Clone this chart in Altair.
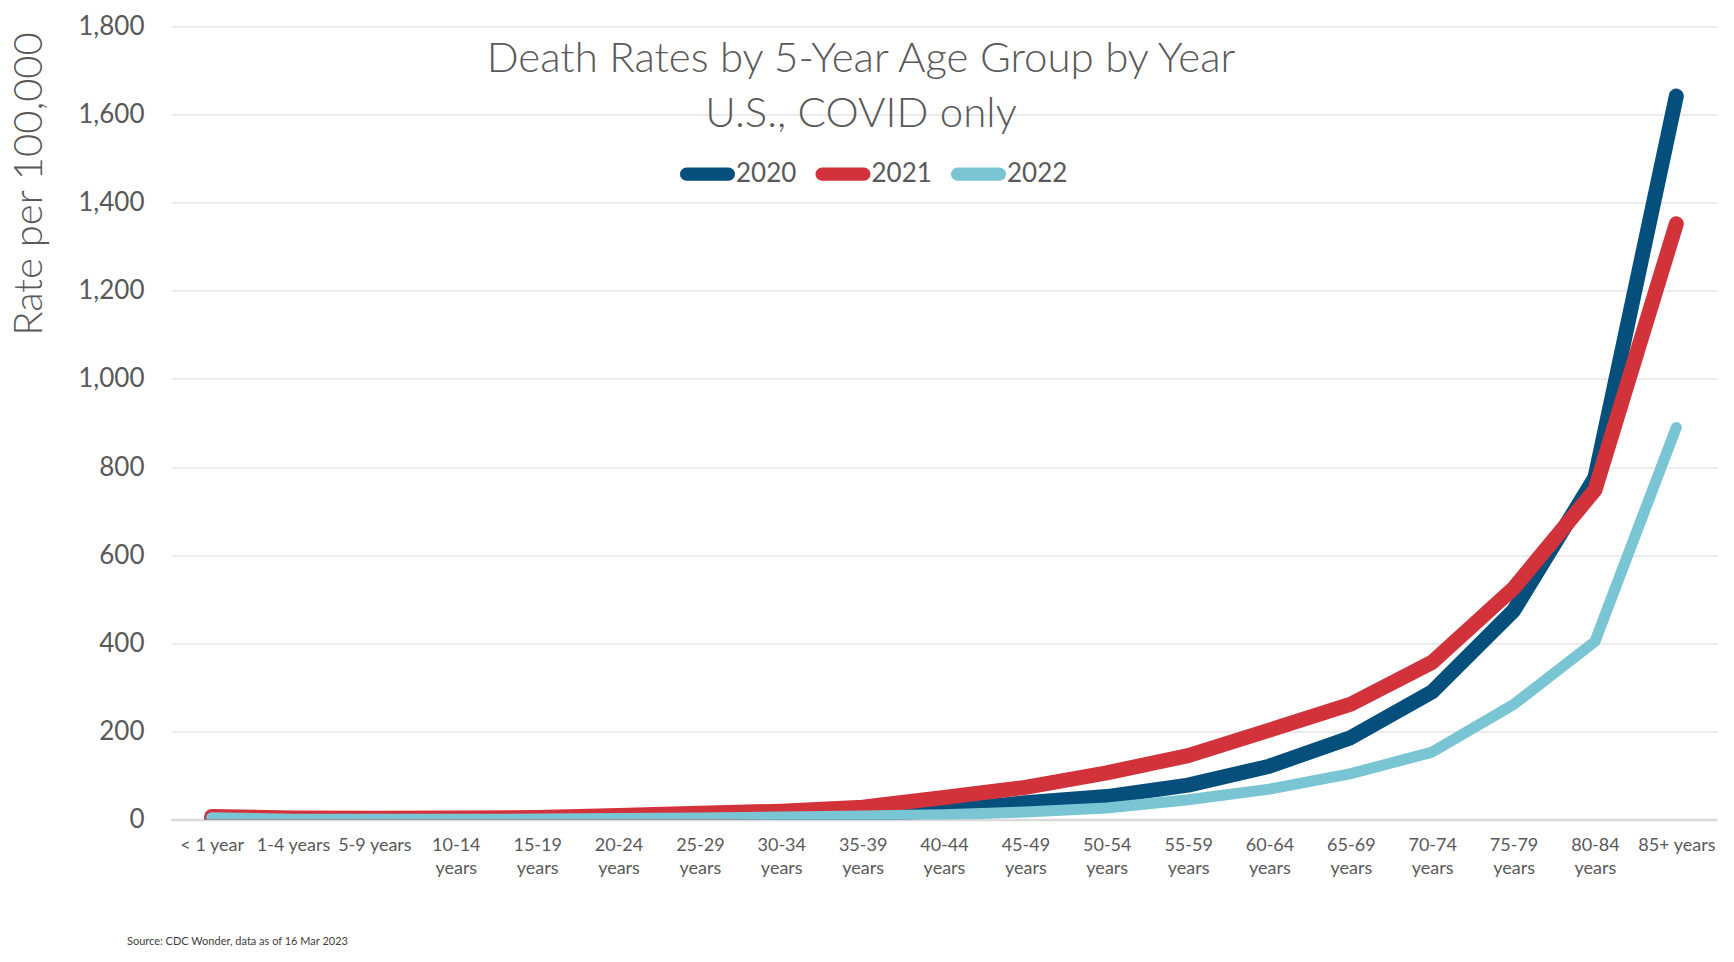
import altair as alt
import pandas as pd

# Age groups along the x axis
ages = [
    "< 1 year", "1-4 years", "5-9 years", "10-14 years", "15-19 years",
    "20-24 years", "25-29 years", "30-34 years", "35-39 years", "40-44 years",
    "45-49 years", "50-54 years", "55-59 years", "60-64 years", "65-69 years",
    "70-74 years", "75-79 years", "80-84 years", "85+ years",
]
single_line_labels = ["< 1 year", "1-4 years", "5-9 years", "85+ years"]

# COVID death rates per 100,000 by year
years = ["2020", "2021", "2022"]
rate_2020 = [2, 0.3, 0.2, 0.3, 0.8, 2, 4, 7, 12, 20, 38, 52, 78, 121, 186, 290, 474, 776, 1642]
rate_2021 = [7, 3.5, 3, 3.5, 4.5, 9, 14, 19, 28, 50, 73, 106, 145, 203, 262, 357, 525, 748, 1352]
rate_2022 = [4, 0.6, 0.4, 0.5, 1, 2, 3.5, 5.5, 8, 11, 17, 26, 45, 69, 104, 153, 261, 404, 890]

colors = ["#054f7d", "#d2323a", "#7ac5d4"]
y_ticks = [0, 200, 400, 600, 800, 1000, 1200, 1400, 1600, 1800]

title_lines = ["Death Rates by 5-Year Age Group by Year", "U.S., COVID only"]
source_note = "Source: CDC Wonder, data as of 16 Mar 2023"

rows = []
for yr, series in zip(years, [rate_2020, rate_2021, rate_2022]):
    for i, (age, v) in enumerate(zip(ages, series)):
        rows.append({"age": age, "idx": i, "year": yr, "rate": v})
df = pd.DataFrame(rows)

FONT = "Lato"
GREY = "#595959"

label_expr = (
    "indexof(" + str(single_line_labels) + ", datum.label) >= 0 ? datum.label : split(datum.label, ' ')"
)

# thin capsule outline; a wide stroke turns it into a round-ended bar
capsule = (
    "M-0.95,-0.05 L0.95,-0.05 A0.05,0.05 0 0 1 0.95,0.05 "
    "L-0.95,0.05 A0.05,0.05 0 0 1 -0.95,-0.05 Z"
)

x_enc = alt.X(
    "age:N",
    sort=ages,
    scale=alt.Scale(type="point", padding=0.5),
    axis=alt.Axis(
        title=None,
        labelAngle=0,
        labelAlign="center",
        labelBaseline="top",
        labelPadding=17,
        labelLineHeight=23,
        labelFont=FONT,
        labelFontSize=18,
        labelColor=GREY,
        labelExpr=label_expr,
        ticks=False,
        domainColor="#d9d9d9",
        domainWidth=2.5,
        grid=False,
    ),
)

y_enc = alt.Y(
    "rate:Q",
    scale=alt.Scale(domain=[0, 1800], nice=False),
    axis=alt.Axis(
        values=y_ticks,
        format=",.0f",
        title="Rate per 100,000",
        titleFont=FONT,
        titleFontSize=40,
        titleFontWeight=300,
        titleColor=GREY,
        titleX=-142,
        titleY=157,
        titleAngle=270,
        titleAlign="center",
        titleBaseline="middle",
        labelFont=FONT,
        labelFontSize=26,
        labelColor=GREY,
        labelPadding=27,
        domain=False,
        ticks=False,
        grid=True,
        gridColor="#e4e4e4",
        gridWidth=1.3,
    ),
)

color_enc = alt.Color(
    "year:N",
    scale=alt.Scale(domain=years, range=colors),
    legend=alt.Legend(
        title=None,
        orient="none",
        direction="horizontal",
        legendX=509,
        legendY=120,
        symbolType=capsule,
        symbolSize=1936,
        symbolStrokeWidth=11,
        labelFont=FONT,
        labelFontSize=26,
        labelColor=GREY,
        labelOffset=1,
        columnPadding=1.5,
    ),
)

base = alt.Chart(df).encode(x=x_enc, y=y_enc, color=color_enc, order=alt.Order("idx:Q"))

# 2020 and 2021 drawn heavy, 2022 lighter and on top
heavy = base.transform_filter(alt.FieldOneOfPredicate(field="year", oneOf=years[:2])).mark_line(
    strokeWidth=15, strokeCap="round", strokeJoin="round", clip=True
)
light = base.transform_filter(alt.FieldEqualPredicate(field="year", equal=years[2])).mark_line(
    strokeWidth=11, strokeCap="round", strokeJoin="round", clip=True
)

title1 = alt.Chart(pd.DataFrame({"t": [title_lines[0]]})).mark_text(
    font=FONT, fontSize=42, fontWeight=300, color=GREY, align="center", baseline="alphabetic"
).encode(x=alt.value(690), y=alt.value(45), text="t:N")

title2 = alt.Chart(pd.DataFrame({"t": [title_lines[1]]})).mark_text(
    font=FONT, fontSize=42, fontWeight=300, color=GREY, align="center", baseline="alphabetic"
).encode(x=alt.value(690), y=alt.value(100), text="t:N")

source = alt.Chart(pd.DataFrame({"t": [source_note]})).mark_text(
    font=FONT, fontSize=11, color="#404040", align="left", baseline="middle"
).encode(x=alt.value(-44), y=alt.value(915), text="t:N")

chart = (
    alt.layer(heavy, light, title1, title2, source)
    .properties(
        width=1546,
        height=793,
        autosize=alt.AutoSizeParams(type="none"),
        padding={"left": 171, "top": 26.5, "right": 17, "bottom": 142.5},
        background="white",
    )
    .configure_view(stroke=None)
)

chart.save("out.html", embed_options={"renderer": "svg", "actions": False})
